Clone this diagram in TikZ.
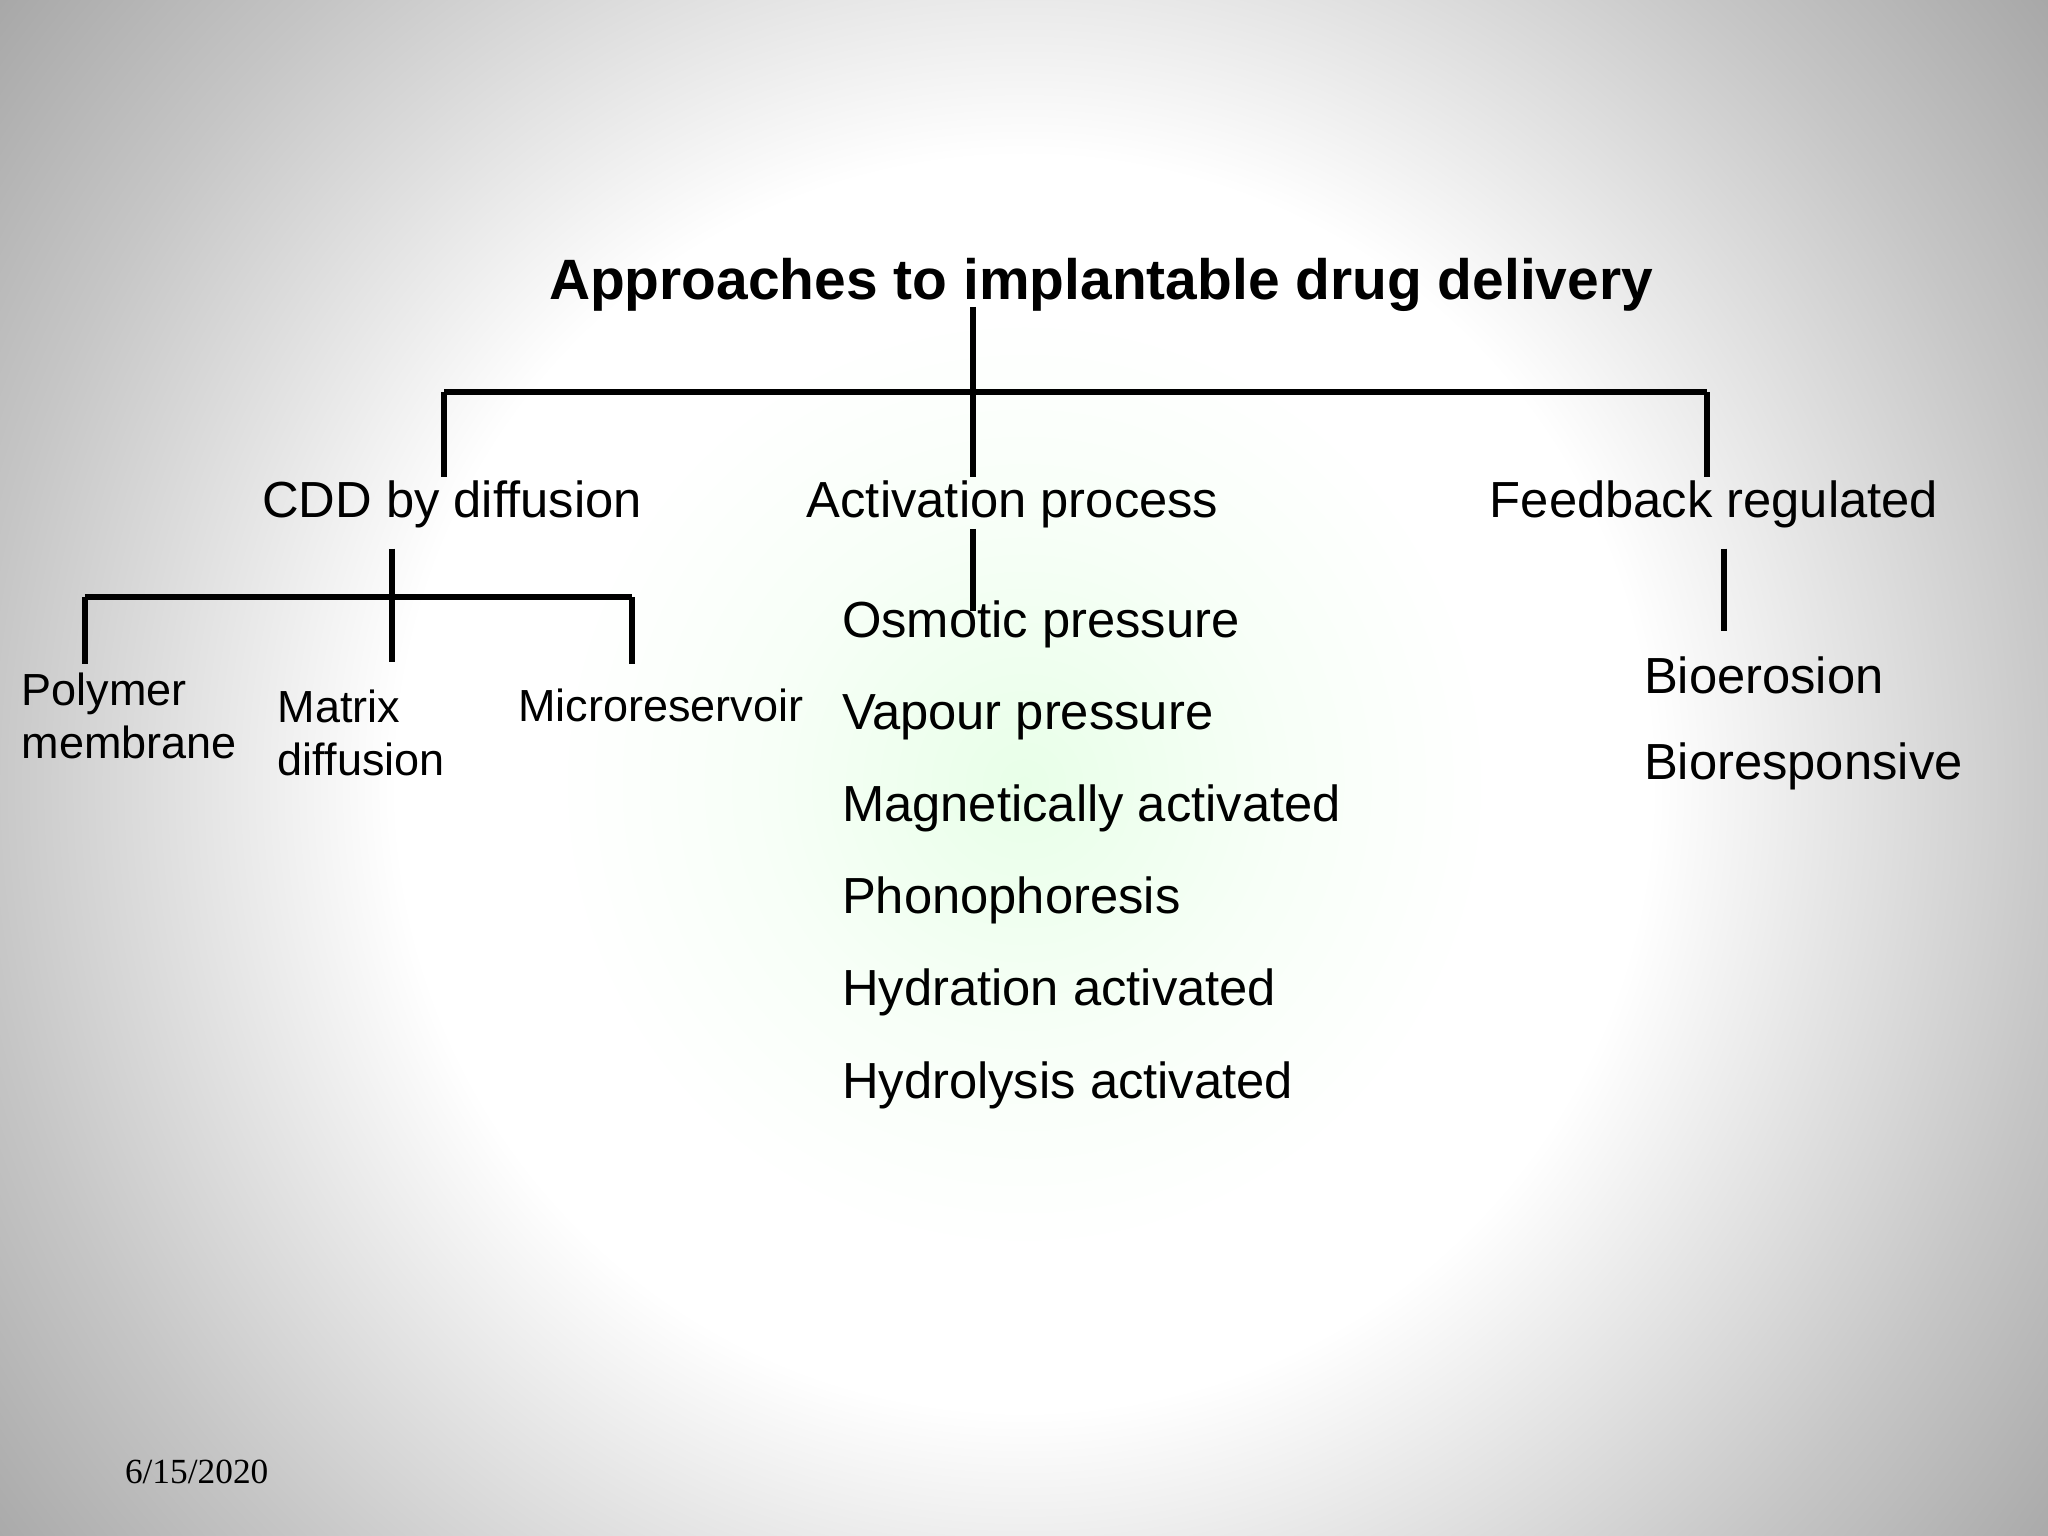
\documentclass[tikz,border=0pt]{standalone}
\usepackage{fontspec}
\setmainfont{Liberation Sans}
\newfontfamily\datefont{Liberation Serif}
\pgfdeclareradialshading{bgshade}{\pgfpoint{0bp}{0bp}}{color(0bp)=(green!9!white); color(5bp)=(green!3!white); color(9bp)=(white); color(12bp)=(white); color(20bp)=(gray!45); color(25bp)=(gray!70); color(50bp)=(gray!70)}
\begin{document}
\begin{tikzpicture}[x=0.1mm,y=-0.1mm,
  ln/.style={line width=1.2pt},
  lbl/.style={anchor=west,inner sep=0pt,font=\fontsize{11.05}{12}\selectfont},
  sml/.style={anchor=west,inner sep=0pt,font=\fontsize{9.8}{11.6}\selectfont,align=left}]
\useasboundingbox (0,0) rectangle (1568,1176);
\begin{scope}
\clip (0,0) rectangle (1568,1176);
\shade[shading=bgshade] (784,600) circle (1000);
\end{scope}
\node[inner sep=0pt,font=\bfseries\fontsize{12.4}{13}\selectfont] (title) at (843,218) {Approaches to implantable drug delivery};
\coordinate (t0) at (745,235);
\coordinate (hL) at (340,300); \coordinate (hM) at (745,300); \coordinate (hR) at (1307,300);
\draw[ln] (t0) -- (hM);
\draw[ln] (hL) -- (hR);
\draw[ln] (hL) -- (340,365);
\draw[ln] (hM) -- (745,365);
\draw[ln] (hR) -- (1307,365);
\node[lbl] (cdd) at (200,386) {CDD by diffusion};
\node[lbl] (act) at (617,386) {Activation process};
\node[lbl] (fb) at (1140,386) {Feedback regulated};
\draw[ln] (745,405) -- (745,468);
\foreach \t/\y [count=\i] in {Osmotic pressure/478,Vapour pressure/549,Magnetically activated/619,Phonophoresis/689,Hydration activated/760,Hydrolysis activated/831}
  \node[lbl] (a\i) at (644,\y) {\t};
\draw[ln] (1320,420) -- (1320,483);
\node[lbl] (b1) at (1258,517) {Bioerosion};
\node[lbl] (b2) at (1258,587) {Bioresponsive};
\draw[ln] (300,420) -- (300,507);
\draw[ln] (65,457) -- (484,457);
\draw[ln] (65,457) -- (65,508);
\draw[ln] (484,457) -- (484,508);
\node[sml] (pm) at (16,548) {Polymer\\membrane};
\node[sml] (md) at (212,561) {Matrix\\diffusion};
\node[sml] (mr) at (396,540) {Microreservoir};
\node[anchor=west,inner sep=0pt,font=\datefont\fontsize{7.7}{8}\selectfont] (date) at (95,1127) {6/15/2020};
\end{tikzpicture}
\end{document}
